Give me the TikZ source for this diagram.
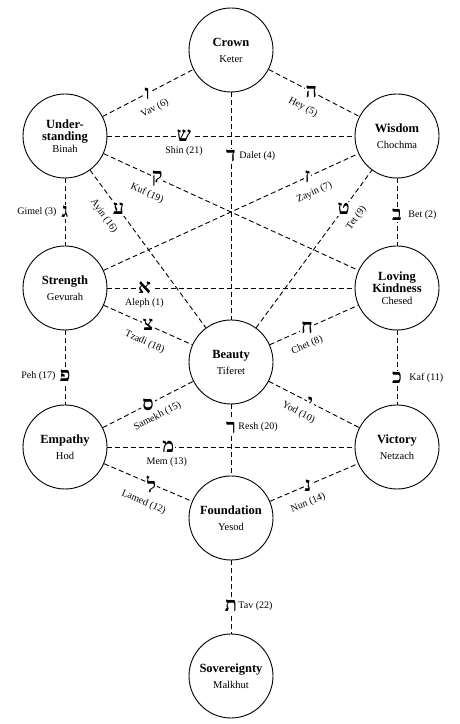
\documentclass[tikz,border=0pt]{standalone}
\usepackage{fontspec}
\setmainfont{Liberation Serif}
\newfontfamily\hebfont[Script=Hebrew]{Liberation Serif}
\newcommand{\ttl}[1]{{\bfseries\fontsize{12.5}{13.5}\selectfont #1}}
\tikzset{
  sef_n/.style = {circle, draw=black, line width=0.9pt, fill=white, minimum size=84pt, inner sep=0pt, align=center, font=\fontsize{10.5}{12}\selectfont},
  lnk/.style = {dash pattern=on 5pt off 3pt, line width=0.9pt},
  heb_n/.style = {font=\hebfont\bfseries\fontsize{20}{20}\selectfont, fill=white, inner sep=1pt},
  lbl/.style = {font=\fontsize{10}{12}\selectfont, inner sep=1pt}
}

\begin{document}
\begin{tikzpicture}[x=1pt,y=1pt]
	\useasboundingbox (0,0) rectangle (460,724);
	\node[sef_n] (crown) at (231,674) {\ttl{Crown}\\[4pt]Keter};
	\node[sef_n] (und) at (65,588) {\ttl{Under-}\\\ttl{standing}\\Binah};
	\node[sef_n] (wis) at (397,588) {\ttl{Wisdom}\\[4pt]Chochma};
	\node[sef_n] (str) at (65,436) {\ttl{Strength}\\[4pt]Gevurah};
	\node[sef_n] (lov) at (397,436) {\ttl{Loving}\\\ttl{Kindness}\\Chesed};
	\node[sef_n] (bea) at (231,362) {\ttl{Beauty}\\[4pt]Tiferet};
	\node[sef_n] (emp) at (65,277) {\ttl{Empathy}\\[4pt]Hod};
	\node[sef_n] (vic) at (397,277) {\ttl{Victory}\\[4pt]Netzach};
	\node[sef_n] (fou) at (231,206) {\ttl{Foundation}\\[4pt]Yesod};
	\node[sef_n] (sov) at (231,48) {\ttl{Sovereignty}\\[4pt]Malkhut};

	\draw[lnk] (und) -- node[pos=0.49,heb_n]{ו} node[pos=0.49,lbl,sloped,below=11pt]{Vav (6)} (crown);
	\draw[lnk] (crown) -- node[pos=0.47,heb_n]{ה} node[pos=0.47,lbl,sloped,below=12pt]{Hey (5)} (wis);
	\draw[lnk] (und) -- node[pos=0.31,heb_n]{ש} node[pos=0.31,lbl,below=9pt]{Shin (21)} (wis);
	\draw[lnk] (crown) -- node[pos=0.28,heb_n]{ד} node[pos=0.28,lbl,right=7pt]{Dalet (4)} (bea);
	\draw[lnk] (und) -- node[pos=0.21,heb_n]{ק} node[pos=0.2,lbl,sloped,below=12pt]{Kuf (19)} (lov);
	\draw[lnk] (str) -- node[pos=0.8,heb_n]{ז} node[pos=0.8,lbl,sloped,below=11pt]{Zayin (7)} (wis);
	\draw[lnk] (und) -- node[pos=0.5,heb_n]{ג} node[pos=0.5,lbl,left=7pt]{Gimel (3)} (str);
	\draw[lnk] (und) -- node[pos=0.245,heb_n]{ע} node[pos=0.23,lbl,sloped,below=10pt]{Ayin (16)} (bea);
	\draw[lnk] (bea) -- node[pos=0.756,heb_n]{ט} node[pos=0.756,lbl,sloped,below=10pt]{Tet (9)} (wis);
	\draw[lnk] (wis) -- node[pos=0.54,heb_n]{ב} node[pos=0.54,lbl,right=10pt]{Bet (2)} (lov);
	\draw[lnk] (str) -- node[pos=0.15,heb_n]{א} node[pos=0.15,lbl,below=9pt]{Aleph (1)} (lov);
	\draw[lnk] (str) -- node[pos=0.5,heb_n]{צ} node[pos=0.54,lbl,sloped,below=11pt]{Tzadi (18)} (bea);
	\draw[lnk] (bea) -- node[pos=0.42,heb_n]{ח} node[pos=0.35,lbl,sloped,below=10pt]{Chet (8)} (lov);
	\draw[lnk] (str) -- node[pos=0.61,heb_n]{פ} node[pos=0.61,lbl,left=8pt]{Peh (17)} (emp);
	\draw[lnk] (lov) -- node[pos=0.64,heb_n]{כ} node[pos=0.64,lbl,right=11pt]{Kaf (11)} (vic);
	\draw[lnk] (emp) -- node[pos=0.5,heb_n]{ס} node[pos=0.53,lbl,sloped,below=9pt]{Samekh (15)} (bea);
	\draw[lnk] (bea) -- node[pos=0.46,heb_n]{י} node[pos=0.4,lbl,sloped,below=8.5pt]{Yod (10)} (vic);
	\draw[lnk] (bea) -- node[pos=0.32,heb_n]{ר} node[pos=0.32,lbl,right=6pt]{Resh (20)} (fou);
	\draw[lnk] (emp) -- node[pos=0.246,heb_n]{מ} node[pos=0.24,lbl,below=9pt]{Mem (13)} (vic);
	\draw[lnk] (emp) -- node[pos=0.54,heb_n]{ל} node[pos=0.54,lbl,sloped,below=14pt]{Lamed (12)} (fou);
	\draw[lnk] (fou) -- node[pos=0.43,heb_n]{נ} node[pos=0.36,lbl,sloped,below=10.5pt]{Nun (14)} (vic);
	\draw[lnk] (fou) -- node[pos=0.62,heb_n]{ת} node[pos=0.62,lbl,right=6pt]{Tav (22)} (sov);
\end{tikzpicture}
\end{document}
